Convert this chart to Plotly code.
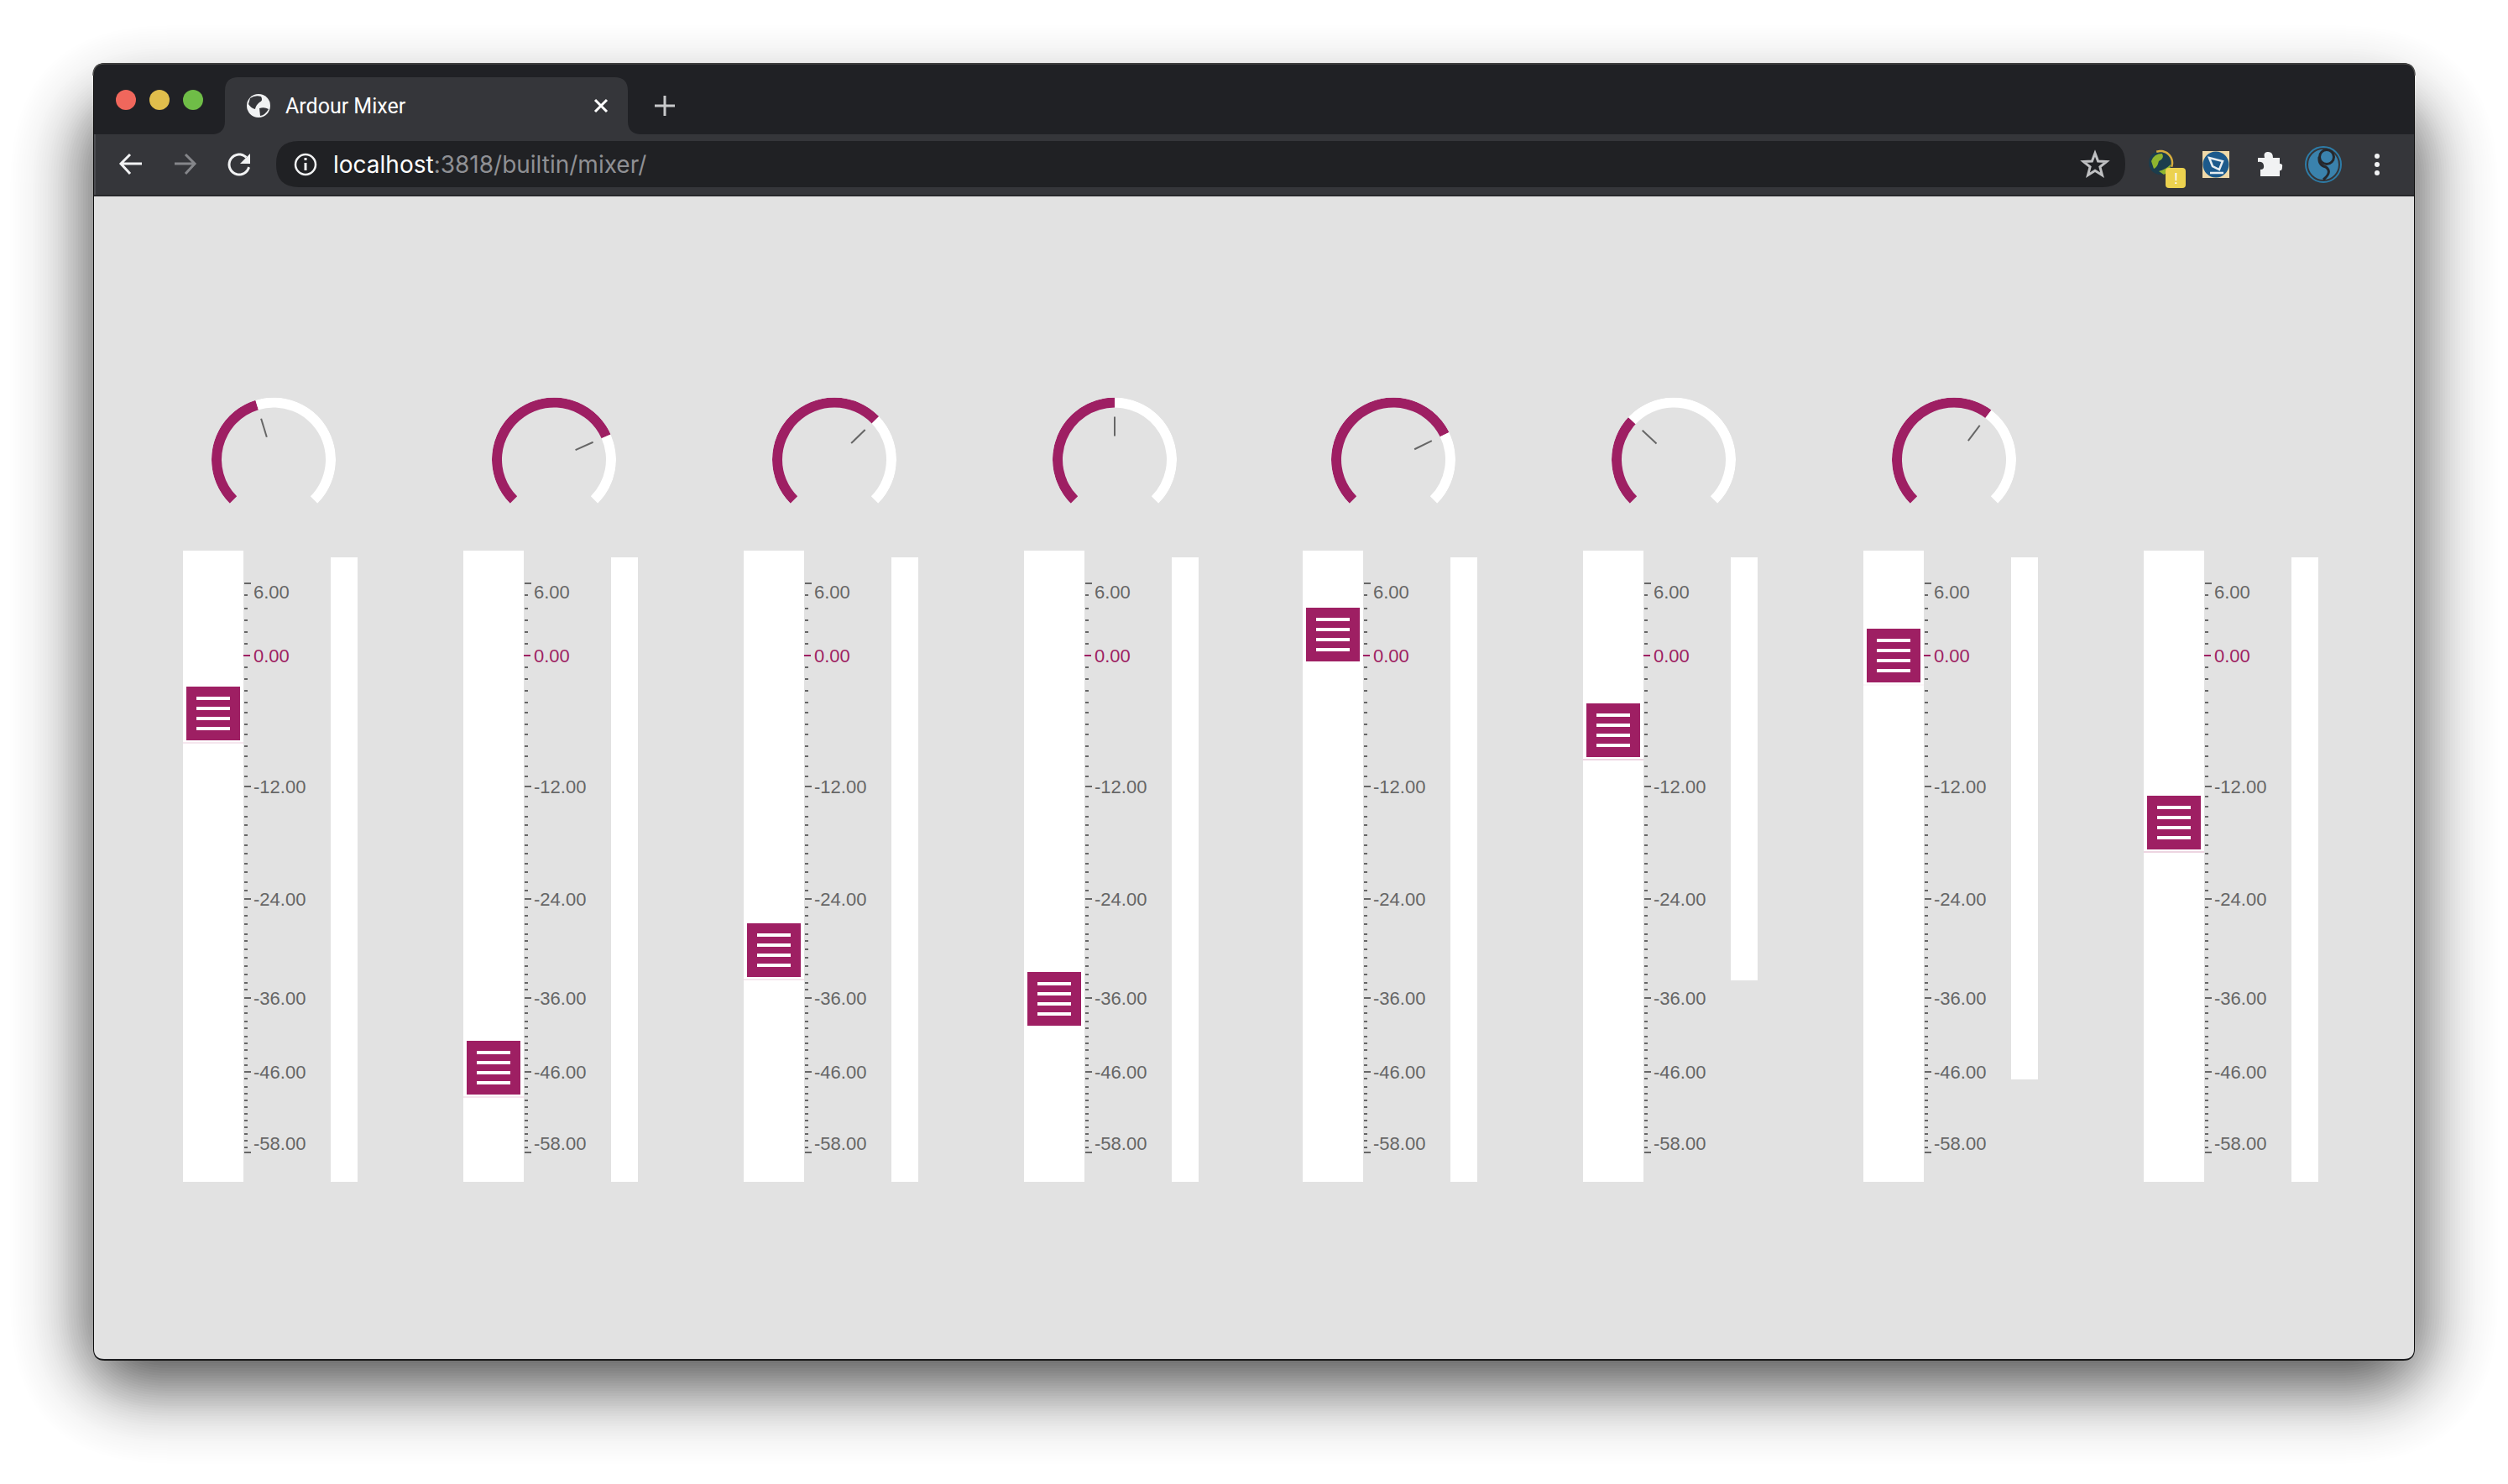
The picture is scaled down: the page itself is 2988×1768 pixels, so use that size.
import math

import plotly.graph_objects as go

WIDTH, HEIGHT = 2988, 1768
PURPLE = "#9e1f63"
TICK_GREY = "#666666"

# Fader scale: every dB tick and where it sits on the track (px from track top).
TICK_DB = list(range(6, -59, -1))
TICK_POS = [39, 53, 69, 83, 97, 111, 125,
            139, 153, 167, 181, 193, 207, 219, 233, 245, 257, 269, 281,
            293, 305, 317, 327, 339, 351, 361, 373, 383, 395, 405, 415,
            425, 435, 445, 457, 465, 475, 485, 495, 505, 515, 523, 533,
            543, 551, 561, 569, 579, 587, 595, 605, 613, 621,
            629, 639, 647, 655, 663, 671, 679, 687, 695, 703, 711, 717]
LABEL_DB = [6, 0, -12, -24, -36, -46, -58]
LABEL_TEXT = ["6.00", "0.00", "-12.00", "-24.00", "-36.00", "-46.00", "-58.00"]

# One entry per strip.
FADER_POS = [194, 616, 476, 534, 100, 214, 125, 324]
METER_END = [752, 752, 752, 752, 752, 512, 630, 752]
PAN_ANGLE = [-17, 66, 46, 0, 64, -47, 37]  # the last strip has no knob

STRIP_LEFT = [218, 552, 886, 1220, 1552, 1886, 2220, 2554]
HANDLE_EDGE = [0.15, 0.15, 0.15, 0.0, 0.0, 0.25, 0.05, 0.25]

TRACK_LEN = 752
TRACK_TOP = 656
STRIP_W = 208

shapes = []
annotations = []
traces = []
layout_axes = {}


def px_x(x):
    return x / WIDTH


def px_y(y):
    return 1 - y / HEIGHT


def path(d, fill=None, line=None, lw=0):
    shapes.append(dict(type="path", path=d, xref="x", yref="y", layer="below",
                       fillcolor=fill or "rgba(0,0,0,0)",
                       line=dict(color=line or "rgba(0,0,0,0)", width=lw)))


def rrect(x0, y0, x1, y1, r):
    return (f"M{x0 + r},{y0} L{x1 - r},{y0} Q{x1},{y0} {x1},{y0 + r} "
            f"L{x1},{y1 - r} Q{x1},{y1} {x1 - r},{y1} L{x0 + r},{y1} "
            f"Q{x0},{y1} {x0},{y1 - r} L{x0},{y0 + r} Q{x0},{y0} {x0 + r},{y0} Z")


def circle(cx, cy, r, fill=None, line=None, lw=0):
    shapes.append(dict(type="circle", xref="x", yref="y", layer="below",
                       x0=cx - r, x1=cx + r, y0=cy - r, y1=cy + r,
                       fillcolor=fill or "rgba(0,0,0,0)",
                       line=dict(color=line or "rgba(0,0,0,0)", width=lw)))


def arc(cx, cy, r, a0, a1, n=24):
    # Angles in degrees, clockwise from the top.
    pts = []
    for k in range(n + 1):
        a = math.radians(a0 + (a1 - a0) * k / n)
        pts.append(f"{cx + r * math.sin(a):.1f},{cy - r * math.cos(a):.1f}")
    return "M" + " L".join(pts)


def label(x, y, text, size, color="#ffffff", family="Inter", anchor="left",
          xref="x", yref="y", yshift=0):
    annotations.append(dict(x=x, y=y, xref=xref, yref=yref, text=text,
                            showarrow=False, xanchor=anchor, yanchor="middle",
                            yshift=yshift, borderpad=0, borderwidth=0,
                            font=dict(family=family, size=size, color=color)))


def add_shadow():
    # Soft window shadow built from stacked translucent rounded rectangles.
    x0, y0, x1, y1 = 111, 129, 2877, 1645
    sigma, peak = 47.0, 0.76
    prev = 0.0
    for d in range(141, -141, -3):
        target = peak * 0.5 * math.erfc(d / sigma / math.sqrt(2))
        alpha = 1 - (1 - target) / (1 - prev)
        prev = target
        r = max(10, 90 + d)
        path(rrect(x0 - d, y0 - d, x1 + d, y1 + d, r),
             fill=f"rgba(0,0,0,{alpha:.5f})")


def add_window():
    path(rrect(111, 75, 2877, 1621, 14), fill="#0c0c0c")
    path(rrect(112, 77, 2876, 1620, 12), fill="#202125")
    path("M111,90 Q111,76 125,76 L2863,76 Q2877,76 2877,90", line="#4d4d4d", lw=1.5)
    path("M112,160 L2876,160 L2876,232 L112,232 Z", fill="#35363a")
    path("M112,232 L2876,232 L2876,234 L112,234 Z", fill="#27282b")
    path("M112,160 L114,160 L114,232 L112,232 Z", fill="#4b4c50")
    path("M112,234 L2876,234 L2876,1607 Q2876,1619 2864,1619 L124,1619 "
         "Q112,1619 112,1607 Z", fill="#e2e2e2")
    # traffic lights
    circle(150, 119, 12, fill="#f0675c")
    circle(190, 119, 12, fill="#e0be4c")
    circle(230, 119, 12, fill="#6fbd47")
    # tab
    path("M252,160 Q268,160 268,144 L268,108 Q268,92 284,92 L732,92 "
         "Q748,92 748,108 L748,144 Q748,160 764,160 Z", fill="#35363a")
    circle(308, 126, 14, fill="#f1f2f3")
    path("M298,117 Q304,113 311,115 Q314,120 309,122 Q305,125 304,130 "
         "Q299,129 296,124 Z", fill="#35363a")
    path("M309,129 Q315,127 320,130 Q316,137 310,138 Z", fill="#35363a")
    label(340, 126, "Ardour Mixer", 25, family="Roboto")
    path("M709,119 L723,133 M723,119 L709,133", line="#ffffff", lw=3)
    path("M780,126 L804,126 M792,114 L792,138", line="#c8c9cb", lw=3)
    # toolbar
    path("M169,195 L144,195 M155,184 L144,195 L155,207", line="#f1f2f3", lw=3)
    path("M208,195 L232,195 M221,184 L232,195 L221,207", line="#85868a", lw=3)
    path(arc(285, 196, 12, 105, 405), line="#f1f2f3", lw=3)
    path("M298,183 L298,195 L286,195 Z", fill="#f1f2f3")
    path(rrect(329, 168, 2532, 223, 27), fill="#202124")
    circle(364, 196, 12, line="#f1f2f3", lw=2.5)
    path("M364,194 L364,203 M364,188 L364,191", line="#f1f2f3", lw=3)
    label(397, 196, "localhost<span style='color:#8f9094'>:3818/builtin/mixer/</span>", 28)
    # star
    star = []
    for k in range(10):
        r = 14.5 if k % 2 == 0 else 6.2
        a = math.radians(36 * k)
        star.append(f"{2496 + r * math.sin(a):.1f},{197 - r * math.cos(a):.1f}")
    path("M" + " L".join(star) + " Z", line="#bfc0c2", lw=3)
    # extension icons
    circle(2574, 194, 14, fill="#1c3d4d")
    path("M2563,192 Q2566,183 2576,183 Q2579,189 2572,192 Q2570,200 2566,201 Z",
         fill="#8fb52f")
    path("M2572,204 Q2580,202 2586,196 Q2586,204 2578,208 Z", fill="#8fb52f")
    path(arc(2574, 194, 14, -20, 110), line="#d8ad3d", lw=2.5)
    path(rrect(2580, 200, 2604, 224, 4), fill="#ecd24f")
    label(2592, 213, "!", 18, family="Liberation Sans", anchor="center")
    path("M2624,180 L2656,180 L2656,212 L2624,212 Z", fill="#efd9a8")
    circle(2640, 196, 15.5, fill="#1c5a8c")
    path("M2632,188 L2648,192 L2644,202 L2636,198 Z M2633,206 L2649,206",
         line="#e6edf0", lw=2.5)
    path("M2701,181 Q2708,180 2708,188 L2716,188 L2716,195 Q2720,195 2719,199 "
         "Q2719,204 2716,203 L2716,210 L2693,210 L2693,202 Q2698,202 2697,197 "
         "Q2696,192 2690,193 L2690,188 L2698,188 Q2696,182 2701,181 Z", fill="#f1f2f3")
    circle(2768, 196, 21, line="#2d7ca8", lw=2)
    circle(2768, 196, 18, fill="#3a82ad")
    circle(2772, 187, 8.5, fill="#3a82ad", line="#25282d", lw=3)
    path("M2763,187 Q2762,197 2771,199 Q2779,205 2768,214", line="#25282d", lw=3)
    for y in (186, 196, 206):
        circle(2832, y, 3, fill="#f1f2f3")


def add_knob(i, left, angle):
    name = f"polar{i + 1 if i else ''}"
    subplot = f"polar{i + 1}" if i else "polar"
    cx, cy, radius = left + 108, 547.5, 74
    traces.append(go.Barpolar(r=[12], base=[62], theta=[(angle - 135) / 2],
                              width=[angle + 135], marker_color=PURPLE,
                              marker_line_width=0, subplot=subplot))
    traces.append(go.Barpolar(r=[12], base=[62], theta=[(angle + 135) / 2],
                              width=[135 - angle], marker_color="#ffffff",
                              marker_line_width=0, subplot=subplot))
    traces.append(go.Scatterpolar(r=[28, 51], theta=[angle, angle], mode="lines",
                                  line=dict(color=TICK_GREY, width=2),
                                  subplot=subplot))
    layout_axes[name] = dict(
        domain=dict(x=[px_x(cx - radius), px_x(cx + radius)],
                    y=[px_y(cy + radius), px_y(cy - radius)]),
        bgcolor="rgba(0,0,0,0)",
        radialaxis=dict(visible=False, range=[0, radius]),
        angularaxis=dict(visible=False, direction="clockwise", rotation=90),
    )


def add_strip(i, left):
    ax = i + 2
    xa, ya = f"x{ax}", f"y{ax}"
    fader = FADER_POS[i]

    traces.append(go.Bar(x=[36], y=[TRACK_LEN], base=[0], width=[72],
                         marker_color="#ffffff", marker_line_width=0,
                         xaxis=xa, yaxis=ya))
    traces.append(go.Bar(x=[192], y=[METER_END[i] - 8], base=[8], width=[32],
                         marker_color="#ffffff", marker_line_width=0,
                         xaxis=xa, yaxis=ya))
    # fader handle
    traces.append(go.Bar(x=[36], y=[64], base=[fader - 32], width=[64],
                         marker_color=PURPLE, marker_line_width=0,
                         xaxis=xa, yaxis=ya))
    grip_x, grip_y = [], []
    for off in (-18, -6, 6, 18):
        grip_x += [16, 56, None]
        grip_y += [fader + off, fader + off, None]
    traces.append(go.Scatter(x=grip_x, y=grip_y, mode="lines",
                             line=dict(color="#ffffff", width=4),
                             xaxis=xa, yaxis=ya))
    if HANDLE_EDGE[i]:
        traces.append(go.Scatter(x=[0, 72], y=[fader + 35, fader + 35], mode="lines",
                                 line=dict(color=f"rgba(158,31,99,{HANDLE_EDGE[i]})",
                                           width=1.5),
                                 xaxis=xa, yaxis=ya))
    # 0 dB gets its own purple tick
    zero = TICK_POS[TICK_DB.index(0)]
    traces.append(go.Scatter(x=[72, 80], y=[zero, zero], mode="lines",
                             line=dict(color=PURPLE, width=2),
                             xaxis=xa, yaxis=ya))

    major = [TICK_POS[TICK_DB.index(d)] for d in LABEL_DB if d != 0]
    minor = [p for d, p in zip(TICK_DB, TICK_POS) if d not in LABEL_DB]
    layout_axes[f"xaxis{ax}"] = dict(
        domain=[px_x(left), px_x(left + STRIP_W)], range=[0, STRIP_W], visible=False,
        anchor=ya, fixedrange=True)
    layout_axes[f"yaxis{ax}"] = dict(
        domain=[px_y(TRACK_TOP + TRACK_LEN), px_y(TRACK_TOP)],
        range=[TRACK_LEN, 0], anchor="free", position=px_x(left + 72), side="right",
        showgrid=False, zeroline=False, showline=False, showticklabels=False,
        ticks="outside", tickmode="array", tickvals=major, ticklen=8, tickwidth=2,
        tickcolor=TICK_GREY, fixedrange=True,
        minor=dict(tickmode="array", tickvals=minor, ticks="outside", ticklen=4,
                   tickwidth=2, tickcolor=TICK_GREY, showgrid=False))

    for d, text in zip(LABEL_DB, LABEL_TEXT):
        shift = {"6.00": -10, "-58.00": 11}.get(text, 0)
        label(84, TICK_POS[TICK_DB.index(d)], text, 22,
              color=PURPLE if d == 0 else TICK_GREY, family="Liberation Sans",
              xref=xa, yref=ya, yshift=shift)


add_shadow()
add_window()

# Invisible full page axes in pixels; the window chrome hangs off these.
traces.append(go.Scatter(x=[None], y=[None], xaxis="x", yaxis="y"))
for i, left in enumerate(STRIP_LEFT):
    add_strip(i, left)
for i, angle in enumerate(PAN_ANGLE):
    add_knob(i, STRIP_LEFT[i], angle)

fig = go.Figure(data=traces)
fig.update_layout(
    width=WIDTH, height=HEIGHT,
    margin=dict(l=0, r=0, t=0, b=0),
    paper_bgcolor="#ffffff", plot_bgcolor="rgba(0,0,0,0)",
    showlegend=False, hovermode=False, barmode="overlay",
    xaxis=dict(domain=[0, 1], range=[0, WIDTH], visible=False, fixedrange=True),
    yaxis=dict(domain=[0, 1], range=[HEIGHT, 0], visible=False, fixedrange=True),
    shapes=shapes, annotations=annotations,
    **layout_axes,
)
fig.write_html("out.html", config=dict(displayModeBar=False),
               post_script="document.body.style.margin='0';"
                           "document.documentElement.style.overflow='hidden';")
